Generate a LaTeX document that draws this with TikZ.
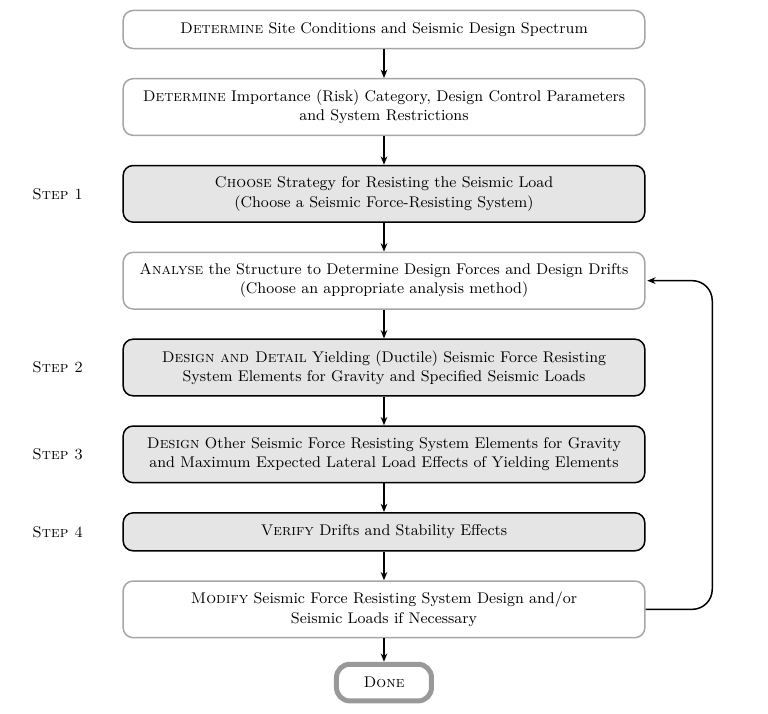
\documentclass[tikz,border=0pt]{standalone}
\usetikzlibrary{positioning,arrows.meta}

\begin{document}
\begin{tikzpicture}[thick,
  node distance=17.2pt,
  plainbox/.style={draw=black!35, line width=0.9pt, rounded corners=6pt, fill=white,
    minimum width=313pt, align=center, font=\fontsize{9.3}{11.6}\selectfont},
  stepbox/.style={plainbox, draw=black, fill=black!10},
  onerow/.style={minimum height=22.8pt},
  tworow/.style={minimum height=34pt},
  steplabel/.style={left=20pt of #1, font=\fontsize{9.3}{11.6}\selectfont},
  flow/.style={-{Stealth[length=5pt,width=4pt]}, line width=0.9pt}]
 \useasboundingbox (-230.4pt,17.7pt) rectangle (230.4pt,-410.7pt);
 \node [plainbox, onerow] (site) {\textsc{Determine} Site Conditions and Seismic Design Spectrum};
 \node [plainbox, tworow, below=of site] (risk) {\textsc{Determine} Importance (Risk) Category, Design Control Parameters\\ and System Restrictions};
 \node [stepbox, tworow, below=of risk] (choose) {\textsc{Choose} Strategy for Resisting the Seismic Load\\ (Choose a Seismic Force-Resisting System)};
 \node [plainbox, tworow, below=of choose] (analyse) {\textsc{Analyse} the Structure to Determine Design Forces and Design Drifts\\ (Choose an appropriate analysis method)};
 \node [stepbox, tworow, below=of analyse] (ductile) {\textsc{Design and Detail} Yielding (Ductile) Seismic Force Resisting\\ System Elements for Gravity and Specified Seismic Loads};
 \node [stepbox, tworow, below=of ductile] (other) {\textsc{Design} Other Seismic Force Resisting System Elements for Gravity\\ and Maximum Expected Lateral Load Effects of Yielding Elements};
 \node [stepbox, onerow, below=of other] (verify) {\textsc{Verify} Drifts and Stability Effects};
 \node [plainbox, tworow, below=of verify] (modify) {\textsc{Modify} Seismic Force Resisting System Design and/or\\ Seismic Loads if Necessary};
 \node [draw=black!40, line width=3pt, rounded corners=8pt, minimum width=57pt, minimum height=22pt,
   font=\fontsize{9.3}{11.6}\selectfont, below=14pt of modify] (done) {\textsc{Done}};
 % step labels
 \node [steplabel=choose] (s1) {\textsc{Step 1}};
 \node [steplabel=ductile] (s2) {\textsc{Step 2}};
 \node [steplabel=other] (s3) {\textsc{Step 3}};
 \node [steplabel=verify] (s4) {\textsc{Step 4}};
 % arrows
 \foreach \a/\b in {site/risk, risk/choose, choose/analyse, analyse/ductile, ductile/other, other/verify, verify/modify, modify/done}
  \draw [flow] (\a) -- (\b);
 \coordinate [right=40pt of modify.east] (loop);
 \draw [flow, rounded corners=12pt] (modify.east) -- (loop) |- ([xshift=1pt]analyse.east);
\end{tikzpicture}
\end{document}
